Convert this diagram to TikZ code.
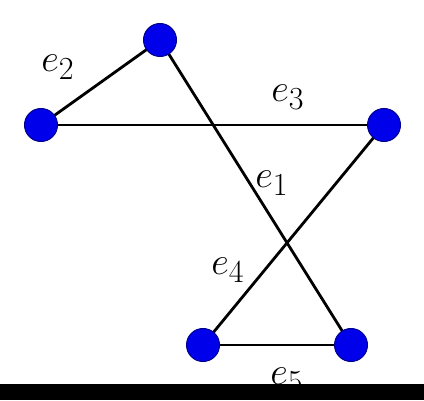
\documentclass[tikz,border=0pt]{standalone}
\begin{document}
\begin{tikzpicture}[x=1pt,y=1pt,
  vert/.style={circle,fill=blue!92!black,draw=blue!55!black,line width=1pt,minimum size=33pt,inner sep=0pt},
  edge/.style={line width=2.8pt,black},
  lab/.style={font=\Huge,scale=1.55,transform shape,inner sep=0pt}]
\useasboundingbox (0,0) rectangle (424,400);
\coordinate (a0) at (160,360);
\coordinate (b0) at (41,275);
\coordinate (c0) at (384,275);
\coordinate (d0) at (203,55);
\coordinate (f0) at (351,55);
\draw[edge] (a0) -- (f0);
\draw[edge] (a0) -- (b0);
\draw[edge] (b0) -- (c0);
\draw[edge] (c0) -- (d0);
\draw[edge] (d0) -- (f0);
\node[vert] (a) at (a0) {};
\node[vert] (b) at (b0) {};
\node[vert] (c) at (c0) {};
\node[vert] (d) at (d0) {};
\node[vert] (f) at (f0) {};
\node[lab] (l2) at (58,333) {$e_2$};
\node[lab] (l3) at (288,303) {$e_3$};
\node[lab] (l1) at (272,217) {$e_1$};
\node[lab] (l4) at (228,130) {$e_4$};
\node[lab] (l5) at (287,20) {$e_5$};
\fill[black] (0,0) rectangle (424,16);
\end{tikzpicture}
\end{document}
